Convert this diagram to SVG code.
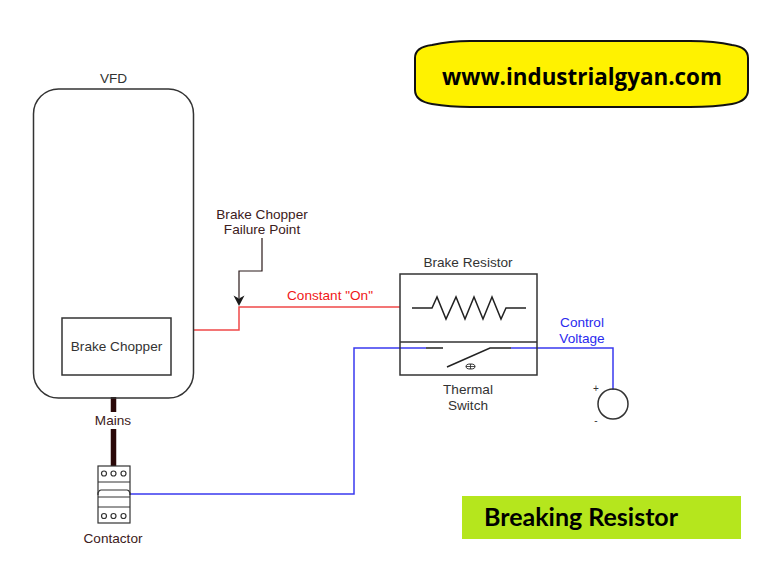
<svg xmlns="http://www.w3.org/2000/svg" width="768" height="576" viewBox="0 0 768 576">
<style>
text{font-family:"Liberation Sans",Arial,sans-serif;font-size:13.6px;text-anchor:middle;fill:#333}
.b{fill:none;stroke:#333;stroke-width:1.5}
.bk{fill:none;stroke:#222;stroke-width:1.5}
.dk{fill:#3c2020}
.red{fill:#f01818}
.blue{fill:#2a2aee}
.h{font-family:"Open Sans","Noto Sans",sans-serif;font-weight:700;fill:#000;font-size:22.4px}
</style>
<rect width="768" height="576" fill="#fff"/>
<g id="connectors" fill="none">
<path d="M194 330H239V307H400" stroke="#f04848" stroke-width="1.5"/>
<path d="M262 238V271H239V298" stroke="#2a1a1a" stroke-width="1.2"/>
<path d="M233.500 295.500L239 298.500L244.500 295.500L239 306Z" fill="#1a1a1a"/>
<path d="M130 494H354V348H426" stroke="#3a3af0" stroke-width="1.5"/>
<path d="M511 348H613V390" stroke="#3a3af0" stroke-width="1.5"/>
<path d="M113.500 397V412M113.500 429V466" stroke="#2a0808" stroke-width="5.500"/>
</g>
<g id="banner"><path d="M415 58Q415 47 432 45Q450 41 470 41H690Q715 41 732 45Q748 47 748 58V90Q748 101 732 104Q715 107 690 107H470Q450 107 432 104Q415 101 415 90Z" fill="#fff200" stroke="#111" stroke-width="2"/><text class="h" x="582" y="85">www.industrialgyan.com</text></g>
<g id="vfd"><rect x="33.500" y="89" width="160" height="309" rx="25" class="b"/><text x="113.500" y="83">VFD</text></g>
<g id="chopper"><rect x="62" y="318" width="109" height="57" class="b"/><text x="116.500" y="351">Brake Chopper</text></g>
<g id="failure-point"><text x="262" y="219" class="dk">Brake Chopper</text><text x="262" y="234" class="dk">Failure Point</text></g>
<g id="constant-on"><text x="330" y="300" class="red">Constant "On"</text></g>
<g id="brake-resistor">
<text x="468" y="267">Brake Resistor</text>
<rect x="400" y="274" width="137" height="101" class="b"/>
<path d="M400 342H537" class="b"/>
<path d="M412 308H432L437 297L446 319L456 297L465 319L474 297L483 319L492 297L501 319L506 308H526" class="bk"/>
<path d="M426 348H443M447 367L490 348H511" class="bk"/>
<ellipse cx="470.500" cy="366.500" rx="4.500" ry="2.500" fill="none" stroke="#222" stroke-width="1"/><path d="M466 366.500H475M470.500 364V369" stroke="#222" stroke-width=".8"/>
<text x="468" y="394">Thermal</text><text x="468" y="410">Switch</text>
</g>
<g id="control-voltage"><text x="582" y="327" class="blue">Control</text><text x="582" y="343" class="blue">Voltage</text></g>
<g id="source"><circle cx="613" cy="404" r="15" class="b" fill="#fff"/><text x="596" y="392" style="font-size:10px">+</text><text x="596" y="424" style="font-size:10px">-</text></g>
<g id="mains"><text x="113" y="425" class="dk">Mains</text></g>
<g id="contactor">
<rect x="98" y="466" width="32" height="57" fill="#fff" stroke="#333" stroke-width="1.200"/>
<path d="M98 482H130M98 507H130" stroke="#333" stroke-width="1" fill="none"/>
<path d="M98 495V493Q99 490 101 490H127Q129 490 130 493V495" stroke="#333" stroke-width="1.200" fill="none"/>
<path d="M98 497H130" stroke="#333" stroke-width="1"/>
<g fill="none" stroke="#333" stroke-width="1.200"><circle cx="104" cy="473.500" r="2.500"/><circle cx="113.500" cy="473.500" r="2.500"/><circle cx="123.500" cy="473.500" r="2.500"/><circle cx="104" cy="516" r="2.500"/><circle cx="113.500" cy="516" r="2.500"/><circle cx="123.500" cy="516" r="2.500"/></g>
<text x="113" y="543" class="dk">Contactor</text>
</g>
<g id="title"><rect x="462" y="496" width="279" height="43" fill="#b5e61d"/><text x="581" y="526" style="font-size:25px;font-weight:700;fill:#000;font-family:Lato,'Open Sans',sans-serif">Breaking Resistor</text></g>
</svg>
